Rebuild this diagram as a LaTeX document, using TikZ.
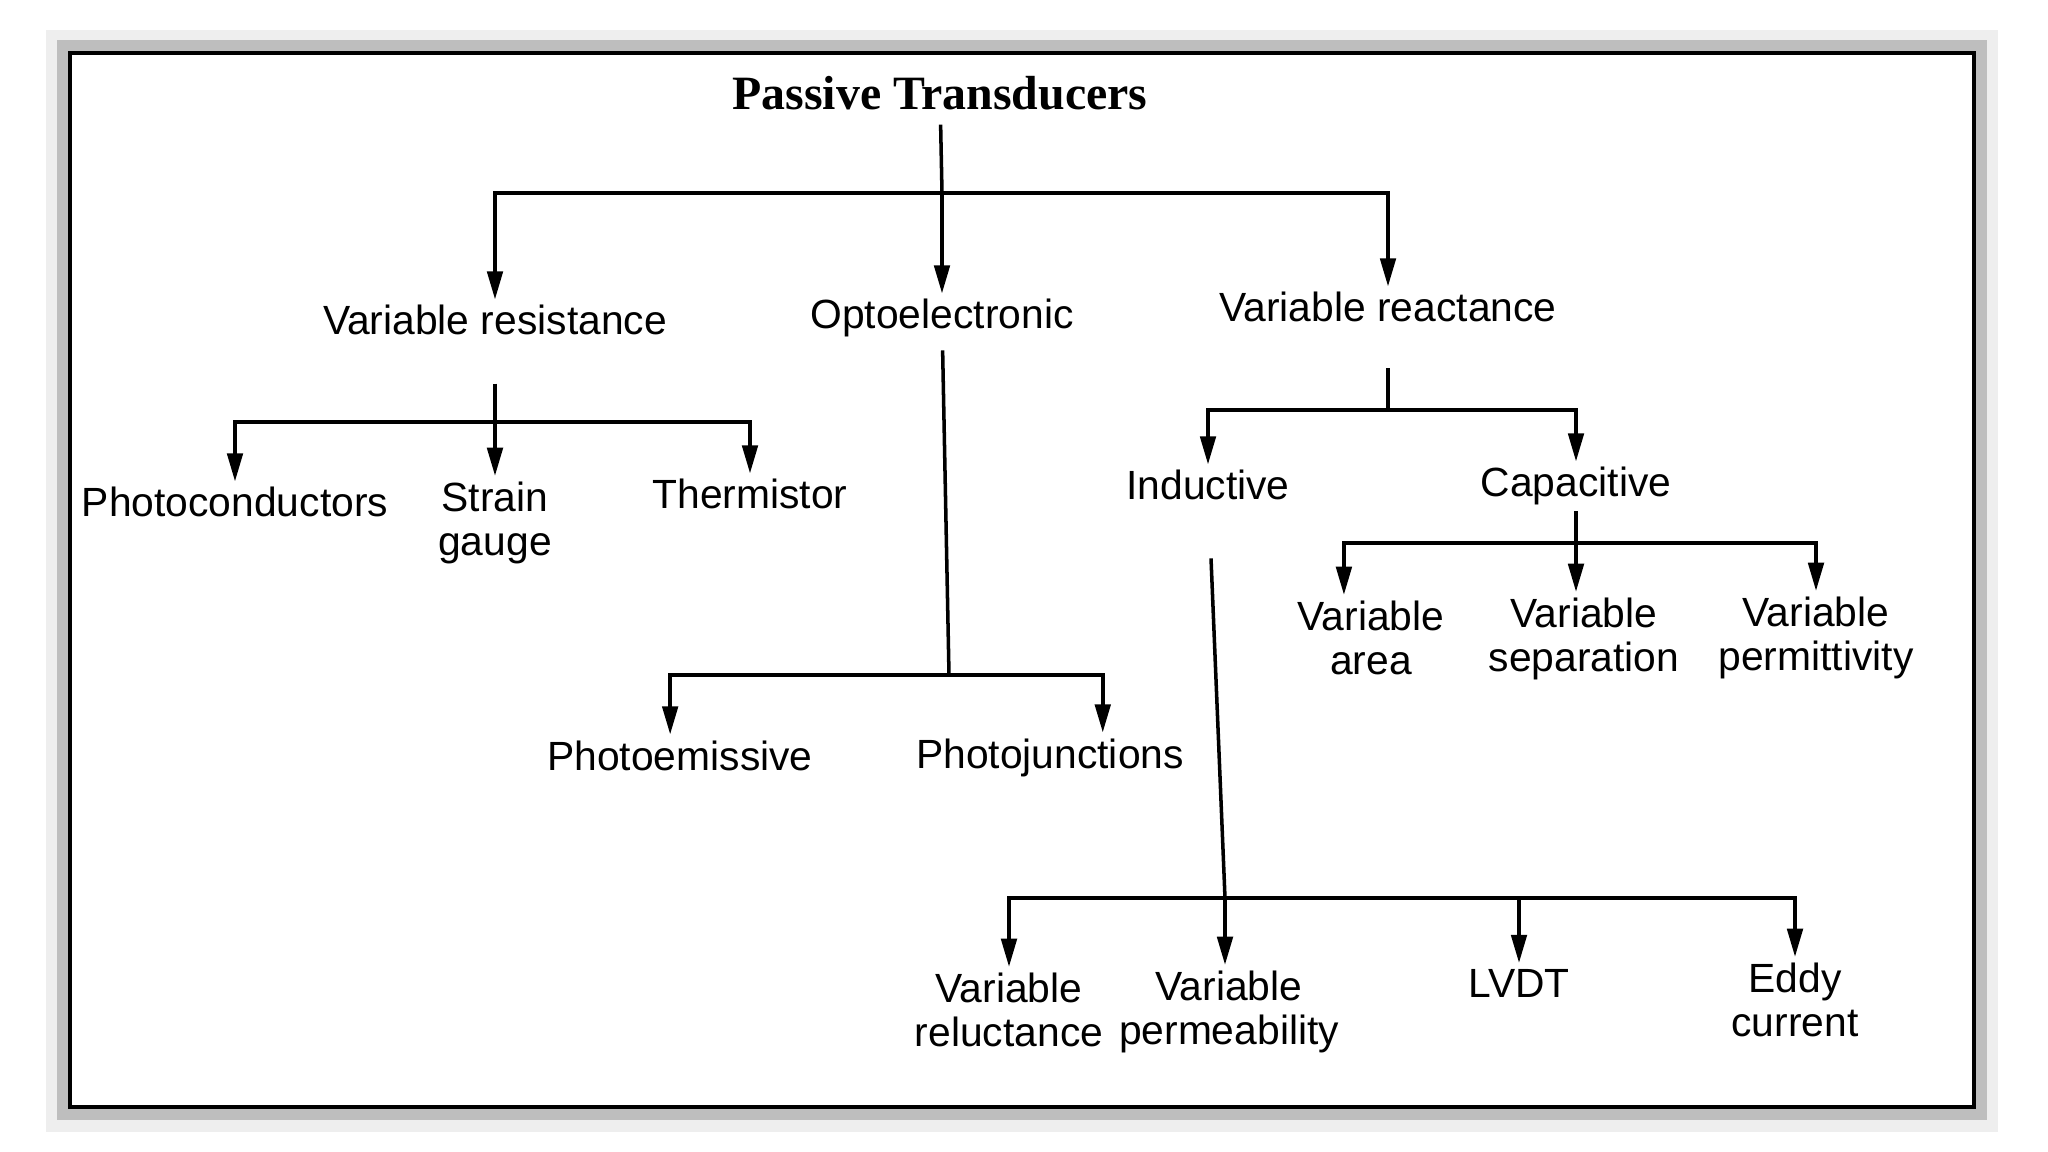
\documentclass[tikz,border=0pt]{standalone}
\usepackage{fontspec}
\setmainfont{Liberation Serif}
\setsansfont{Liberation Sans}
\usetikzlibrary{arrows.meta}
\definecolor{framegray}{RGB}{190,190,190}
\definecolor{hazegray}{RGB}{238,238,238}

\begin{document}
\begin{tikzpicture}[x=0.01cm,y=-0.01cm,
    lbl/.style={font=\sffamily\fontsize{11.6pt}{12.4pt}\selectfont,
      inner sep=1.5pt, anchor=base, align=center},
    link/.style={line width=1pt},
    arr/.style={link, -{Triangle[length=8pt,width=4.4pt]}}]
  % Frame with shadow
  \fill[white] (0,0) rectangle (2048,1152);
  \fill[hazegray] (46,30) rectangle (1998,1132);
  \fill[framegray] (57,40) rectangle (1987,1120);
  \filldraw[fill=white, draw=black, line width=1pt] (70,53) rectangle (1974,1107);
  % Title
  \node[font=\fontsize{13.6pt}{16pt}\selectfont\bfseries, inner sep=1.5pt,
    anchor=base] (title) at (940,110) {Passive Transducers};
  % First level
  \node[lbl] (varres) at (495,335) {Variable resistance};
  \node[lbl] (opto) at (942,329) {Optoelectronic};
  \node[lbl] (varreac) at (1388,322) {Variable reactance};
  % Resistive types (two-line nodes sit on their last line)
  \node[lbl] (photocond) at (235,517) {Photoconductors};
  \node[lbl] (strain) at (495,555) {Strain\\gauge};
  \node[lbl] (thermistor) at (750,509) {Thermistor};
  % Optoelectronic types
  \node[lbl] (photoem) at (680,770) {Photoemissive};
  \node[lbl] (photojn) at (1050,768) {Photojunctions};
  % Reactive types
  \node[lbl] (inductive) at (1208,500) {Inductive};
  \node[lbl] (capacitive) at (1576,497) {Capacitive};
  \node[lbl] (area) at (1371,674) {Variable\\area};
  \node[lbl] (separation) at (1584,671) {Variable\\separation};
  \node[lbl] (permittivity) at (1816,670) {Variable\\permittivity};
  \node[lbl] (reluctance) at (1009,1046) {Variable\\reluctance};
  \node[lbl] (permeability) at (1229,1044) {Variable\\permeability};
  \node[lbl] (lvdt) at (1519,997) {LVDT};
  \node[lbl] (eddy) at (1795,1036) {Eddy\\current};
  % Branch points
  \coordinate (topbar) at (942,193);
  \coordinate (resbar) at (495,422);
  \coordinate (optobar) at (949,675);
  \coordinate (reacbar) at (1388,410);
  \coordinate (capbar) at (1576,543);
  \coordinate (indbar) at (1225,898);
  % Connectors
  \draw[link, shorten <=2.3pt] (title) -- (topbar);
  \draw[arr] (topbar) -| (varres);
  \draw[arr] (topbar) -- (opto);
  \draw[arr] (topbar) -| (varreac);
  \draw[link, shorten <=12pt] (varres) -- (resbar);
  \draw[arr] (resbar) -| (photocond);
  \draw[arr] (resbar) -- (strain);
  \draw[arr] (resbar) -| (thermistor);
  \draw[link, shorten <=2pt] (opto) -- (optobar);
  \draw[arr] (optobar) -| ([xshift=-2.8pt]photoem.north);
  \draw[arr] (optobar) -| ([xshift=15pt]photojn.north);
  \draw[link, shorten <=11.4pt] (varreac) -- (reacbar);
  \draw[arr] (reacbar) -| (inductive);
  \draw[arr] (reacbar) -| (capacitive);
  \draw[link] (capacitive) -- (capbar);
  \draw[arr] (capbar) -| ([xshift=-7.7pt]area.north);
  \draw[arr] (capbar) -- (separation.north -| capbar);
  \draw[arr] (capbar) -| (permittivity);
  \draw[link, shorten <=14.8pt] (inductive) -- (indbar);
  \draw[arr] (indbar) -| (reluctance);
  \draw[arr] (indbar) -- (permeability.north -| indbar);
  \draw[arr] (indbar) -| (lvdt);
  \draw[arr] (indbar) -| (eddy);
\end{tikzpicture}
\end{document}
